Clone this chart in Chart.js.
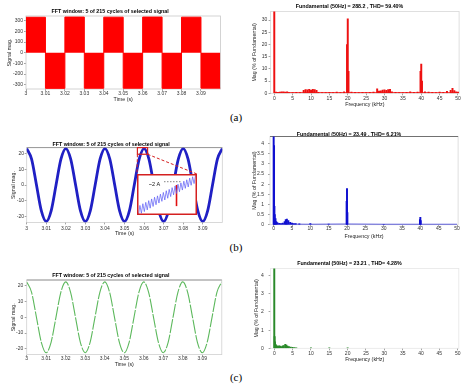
<!DOCTYPE html>
<html>
<head>
<meta charset="utf-8">
<script src="https://cdn.jsdelivr.net/npm/chart.js@4.4.0/dist/chart.umd.min.js"></script>
<style>
  html, body { margin: 0; padding: 0; background: #fff; overflow: hidden; width: 474px; height: 389px; }
  canvas { position: absolute; }
  .lbl { position: absolute; font-family: "Liberation Serif", "DejaVu Serif", serif; font-size: 11px; color: #000; transform: translate(-50%, -50%); }
</style>
</head>
<body>
<div class="lbl" style="left:236px; top:117px">(a)</div>
<div class="lbl" style="left:236px; top:247px">(b)</div>
<div class="lbl" style="left:236px; top:377px">(c)</div>
<script>
// --- (a) signal sans filtre : créneaux + spectre
const timeA = [3.00, 3.01, 3.02, 3.03, 3.04, 3.05, 3.06, 3.07, 3.08, 3.09, 3.10];
const signalA = [333, -334, 335, -333, 334, -333, 335, -334, 334, -332, -332];
const freqA = [0, 0.5, 1, 1.5, 2, 2.5, 3, 3.5, 4, 5, 6, 7, 8, 8.5, 9, 9.5, 10, 10.5, 11, 11.5,
  12, 13, 14, 15, 16, 17, 18, 19, 19.8, 20, 20.2, 21, 22, 23, 24, 25, 26, 27,
  28, 28.5, 29, 29.5, 30, 30.5, 31, 31.5, 32, 33, 34, 35, 36, 37, 38, 39,
  39.8, 40, 40.2, 41, 42, 43, 44, 45, 46, 47, 48, 48.5, 49, 49.5, 50];
const magA = [100, 0.5, 0.4, 0.5, 0.6, 0.6, 0.5, 0.6, 0.3, 0.3, 0.4, 0.3, 1.2, 1.5, 1.4, 1.6, 1.3, 1.6, 1.5, 1.2,
  0.4, 0.3, 0.3, 0.4, 0.3, 0.5, 0.3, 0.6, 20, 30.5, 9, 0.5, 0.4, 0.3, 0.4, 0.3, 0.4, 0.5,
  1.8, 0.9, 1.0, 1.3, 1.4, 1.2, 1.5, 1.6, 0.6, 0.4, 0.3, 0.3, 0.4, 0.6, 0.4, 0.5,
  9, 12, 5, 0.6, 0.5, 0.4, 0.3, 0.5, 0.4, 0.8, 1.2, 2.0, 1.1, 0.6, 0.5];
const floorFreqA = [0, 10, 20, 30, 40, 50];
const floorMagA = [0.3, 0.35, 0.3, 0.35, 0.3, 0.3];

// --- (b) et (c) : sinusoïdes échantillonnées tous les 2.5 ms
const timeS = [3.0000, 3.0025, 3.0050, 3.0075, 3.0100, 3.0125, 3.0150, 3.0175, 3.0200, 3.0225,
  3.0250, 3.0275, 3.0300, 3.0325, 3.0350, 3.0375, 3.0400, 3.0425, 3.0450, 3.0475,
  3.0500, 3.0525, 3.0550, 3.0575, 3.0600, 3.0625, 3.0650, 3.0675, 3.0700, 3.0725,
  3.0750, 3.0775, 3.0800, 3.0825, 3.0850, 3.0875, 3.0900, 3.0925, 3.0950, 3.0975, 3.1000];
const signalB = [23, 16.3, 0, -16.3, -23, -16.3, 0, 16.3, 23, 16.3, 0, -16.3, -23, -16.3, 0, 16.3,
  23, 16.3, 0, -16.3, -23, -16.3, 0, 16.3, 23, 16.3, 0, -16.3, -23, -16.3, 0, 16.3,
  23, 16.3, 0, -16.3, -23, -16.3, 0, 16.3, 23];
const freqB = [0, 0.1, 0.2, 0.3, 0.5, 0.7, 1, 1.5, 2, 2.5, 3, 3.3, 3.6, 4, 4.5, 5, 5.5, 6, 7,
  10, 15, 19.9, 20, 20.1, 30, 39.9, 40, 40.1];
const magB = [10, 3.9, 0.9, 0.5, 0.3, 0.15, 0.1, 0.07, 0.06, 0.08, 0.15, 0.25, 0.28, 0.2, 0.12, 0.08, 0.06, 0.05, 0.04,
  0.05, 0.03, 1.15, 1.78, 0.6, 0.02, 0.25, 0.36, 0.2];
const floorFreqB = [0, 10, 20, 30, 40, 50];
const floorMagB = [0.03, 0.02, 0.03, 0.02, 0.02, 0.02];

const signalC = [22.4, 15.8, 0, -15.8, -22.4, -15.8, 0, 15.8, 22.4, 15.8, 0, -15.8, -22.4, -15.8, 0, 15.8,
  22.4, 15.8, 0, -15.8, -22.4, -15.8, 0, 15.8, 22.4, 15.8, 0, -15.8, -22.4, -15.8, 0, 15.8,
  22.4, 15.8, 0, -15.8, -22.4, -15.8, 0, 15.8, 22.4];
const freqC = [0, 0.1, 0.2, 0.4, 0.6, 0.8, 1, 1.3, 1.6, 2, 2.3, 2.6, 3, 3.3, 3.6, 4, 4.5, 5, 5.5, 6, 10, 15, 20];
const magC = [10, 0.65, 0.35, 0.2, 0.15, 0.12, 0.1, 0.14, 0.12, 0.1, 0.13, 0.15, 0.22, 0.18, 0.12, 0.1, 0.07, 0.05, 0.04, 0.03, 0.02, 0.02, 0.02];

// zoom (b) : ondulation du courant
const rippleIdx = [0, 1, 2, 3, 4, 5, 6, 7, 8, 9, 10, 11, 12, 13, 14, 15, 16, 17, 18, 19,
  20, 21, 22, 23, 24, 25, 26, 27, 28, 29, 30, 31, 32, 33, 34, 35, 36, 37, 38, 39];
const rippleVal = [0.0, 2.8, 0.5, 3.3, 1.0, 3.7, 1.5, 4.2, 2.0, 4.7, 2.5, 5.2, 3.0, 5.6, 3.5, 6.1, 4.0, 6.6, 4.4, 7.1,
  4.9, 7.5, 5.4, 8.0, 5.9, 8.5, 6.3, 9.0, 6.8, 9.4, 7.3, 9.9, 7.8, 10.3, 8.2, 10.8, 8.7, 11.2, 9.2, 11.6];
const markIdx = [26, 26];
const markVal = [2.6, 8.8];

// graduations
const timeTicks = [3, 3.01, 3.02, 3.03, 3.04, 3.05, 3.06, 3.07, 3.08, 3.09];
const freqTicks = [0, 5, 10, 15, 20, 25, 30, 35, 40, 45, 50];
const ticksA = [-300, -200, -100, 0, 100, 200, 300];
const ticksAf = [0, 5, 10, 15, 20, 25, 30];
const ticksS = [-20, -10, 0, 10, 20];
const ticksBf = [0, 0.5, 1, 1.5, 2, 2.5, 3, 3.5, 4];
const ticksCf = [0, 1, 2, 3, 4];

const SANS = '"Liberation Sans", Arial, sans-serif';
Chart.defaults.font.family = SANS;
const FT = 5.3, FA = 5.3, FK = 5, TL = 2;

const boxPlugin = {
  id: 'box',
  beforeDatasetsDraw(chart, args, opts) {
    const { ctx, chartArea: a } = chart;
    ctx.save();
    ctx.lineWidth = 0.8;
    ctx.strokeStyle = opts.color;
    ctx.strokeRect(a.left, a.top, a.right - a.left, a.bottom - a.top);
    if (opts.top) {
      ctx.strokeStyle = opts.top;
      ctx.beginPath(); ctx.moveTo(a.left, a.top); ctx.lineTo(a.right, a.top); ctx.stroke();
    }
    ctx.restore();
  }
};

const pts = (xs, ys) => xs.map((x, i) => ({ x: x, y: ys[i] }));
const fmtTime = v => v === 3 ? '3' : v.toFixed(2);

function panel(p) {
  const y0 = Math.round(p.titleY - FT / 2);
  const y1 = Math.round(p.B + p.xH);
  const cv = document.createElement('canvas');
  cv.width = p.x1 - p.x0;
  cv.height = y1 - y0;
  cv.style.left = p.x0 + 'px';
  cv.style.top = y0 + 'px';
  document.body.appendChild(cv);
  const yW = p.L - p.x0, xH = y1 - p.B;
  const tickFont = { family: SANS, size: FK, lineHeight: 1 };
  const titleFont = { family: SANS, size: FA, lineHeight: 1 };
  const grid = { display: true, drawOnChartArea: false, drawTicks: true, tickLength: TL, color: '#666', lineWidth: 0.6, offset: false };
  return new Chart(cv, {
    type: p.type,
    data: { datasets: p.datasets },
    options: {
      responsive: false, animation: false, events: [],
      layout: { autoPadding: false, padding: { left: 0, top: 0, right: p.x1 - p.R, bottom: 0 } },
      plugins: {
        legend: { display: false }, tooltip: { enabled: false },
        title: {
          display: true, text: p.title, color: '#000',
          font: { family: SANS, size: FT, weight: 'bold', lineHeight: 1 },
          padding: { top: 0, bottom: p.T - y0 - FT }
        },
        box: { color: p.box, top: p.boxTop }
      },
      scales: {
        x: {
          type: 'linear', min: p.xMin, max: p.xMax, offset: false,
          afterFit: s => { s.height = xH; },
          afterBuildTicks: s => { s.ticks = p.xTicks.map(v => ({ value: v })); },
          ticks: { font: tickFont, color: '#333', padding: p.xLabelY - p.B - TL - FK / 2, maxRotation: 0, autoSkip: false, callback: p.xFmt },
          grid: grid, border: { display: false },
          title: { display: true, text: p.xTitle, color: '#222', font: titleFont, padding: { top: 0, bottom: y1 - p.xTitleY - FA / 2 } }
        },
        y: {
          min: p.yMin, max: p.yMax,
          afterFit: s => { s.width = yW; },
          afterBuildTicks: s => { s.ticks = p.yTicks.map(v => ({ value: v })); },
          ticks: { font: tickFont, color: '#333', padding: p.L - TL - p.yLabelRight, autoSkip: false, callback: v => String(v) },
          grid: grid, border: { display: false },
          title: { display: true, text: p.yTitle, color: '#222', font: titleFont, padding: { top: p.yTitleX - p.x0 - FA / 2, bottom: 0 } }
        }
      }
    },
    plugins: [boxPlugin].concat(p.extra || [])
  });
}

const bars = (xs, ys, color) => ({ type: 'bar', data: pts(xs, ys), backgroundColor: color, barThickness: 1.3, borderWidth: 0, grouped: false });
const floor = (xs, ys, color) => ({ type: 'line', data: pts(xs, ys), borderColor: color, borderWidth: 0.8, pointRadius: 0 });

// (a) gauche
panel({
  type: 'line', x0: 0, x1: 247, L: 26, R: 220.4, T: 16, B: 89, titleY: 12, xH: 14,
  yTitleX: 10, yLabelRight: 23, xLabelY: 94, xTitleY: 99.5,
  title: 'FFT window: 5 of 215 cycles of selected signal',
  xTitle: 'Time (s)', yTitle: 'Signal mag.',
  xMin: 3, xMax: 3.1, yMin: -340, yMax: 345, xTicks: timeTicks, yTicks: ticksA, xFmt: fmtTime,
  box: '#c8c8c8',
  datasets: [{ data: pts(timeA, signalA), stepped: 'before', fill: 'origin', borderColor: '#ff0000', backgroundColor: '#ff0000', borderWidth: 1, pointRadius: 0 }]
});

// (a) droite
panel({
  type: 'bar', x0: 240, x1: 483, L: 270.6, R: 459.1, T: 11.5, B: 93.3, titleY: 6.7, xH: 15,
  yTitleX: 255, yLabelRight: 267.3, xLabelY: 99, xTitleY: 104.7,
  title: 'Fundamental (50Hz) = 288.2 , THD= 59.40%',
  xTitle: 'Frequency (kHz)', yTitle: 'Mag (% of Fundamental)',
  xMin: -1, xMax: 50.3, yMin: 0, yMax: 33.5, xTicks: freqTicks, yTicks: ticksAf, xFmt: v => String(v),
  box: '#d8d8d8',
  datasets: [floor(floorFreqA, floorMagA, '#ee1111'), bars(freqA, magA, '#ee1111')]
});

// (b) gauche + cadre de zoom
const INSET = { x: 137, y: 174, w: 60, h: 41 };
const zoomT = [3.0566, 3.0618], zoomV = [19.4, 23.6];
const zoomPlugin = {
  id: 'zoomBox',
  afterDatasetsDraw(chart) {
    const { ctx, scales: { x, y } } = chart;
    const l = x.getPixelForValue(zoomT[0]), r = x.getPixelForValue(zoomT[1]);
    const t = y.getPixelForValue(zoomV[1]), b = y.getPixelForValue(zoomV[0]);
    const ox = parseFloat(chart.canvas.style.left) || 0;
    const oy = parseFloat(chart.canvas.style.top) || 0;
    ctx.save();
    ctx.strokeStyle = '#d42020';
    ctx.lineWidth = 1.2;
    ctx.strokeRect(l, t, r - l, b - t);
    ctx.setLineDash([3, 2]);
    ctx.lineWidth = 1;
    ctx.beginPath();
    ctx.moveTo(l, b); ctx.lineTo(INSET.x - ox, INSET.y - oy);
    ctx.moveTo(r, b); ctx.lineTo(INSET.x + INSET.w - ox, INSET.y - oy);
    ctx.stroke();
    ctx.restore();
  }
};
panel({
  type: 'line', x0: 0, x1: 248, L: 26.7, R: 222.3, T: 147.6, B: 222.4, titleY: 144.2, xH: 14,
  yTitleX: 14, yLabelRight: 24, xLabelY: 228.3, xTitleY: 233.5,
  title: 'FFT window: 5 of 215 cycles of selected signal',
  xTitle: 'Time (s)', yTitle: 'Signal mag.',
  xMin: 3, xMax: 3.1, yMin: -23.6, yMax: 23.6, xTicks: timeTicks, yTicks: ticksS, xFmt: fmtTime,
  box: '#cfcfcf', boxTop: '#888',
  extra: [zoomPlugin],
  datasets: [{ data: pts(timeS, signalB), borderColor: '#2020c4', borderWidth: 2.8, pointRadius: 0, cubicInterpolationMode: 'monotone' }]
});

// encart
const insetPlugin = {
  id: 'insetFrame',
  beforeDraw(chart) {
    const { ctx, width, height } = chart;
    ctx.save(); ctx.fillStyle = '#fff'; ctx.fillRect(0, 0, width, height); ctx.restore();
  },
  afterDraw(chart) {
    const { ctx, width, height } = chart;
    ctx.save();
    ctx.strokeStyle = '#333'; ctx.lineWidth = 0.6; ctx.setLineDash([1.5, 1.5]);
    ctx.beginPath(); ctx.moveTo(27, 7.7); ctx.lineTo(45, 7.7); ctx.stroke();
    ctx.setLineDash([]);
    ctx.fillStyle = '#111'; ctx.font = '5.5px ' + SANS; ctx.textAlign = 'center'; ctx.textBaseline = 'middle';
    ctx.fillText('~2 A', 17.5, 10);
    ctx.strokeStyle = '#d42020'; ctx.lineWidth = 1.5;
    ctx.strokeRect(0.75, 0.75, width - 1.5, height - 1.5);
    ctx.restore();
  }
};
const cvI = document.createElement('canvas');
cvI.width = INSET.w; cvI.height = INSET.h;
cvI.style.left = INSET.x + 'px'; cvI.style.top = INSET.y + 'px';
document.body.appendChild(cvI);
new Chart(cvI, {
  type: 'line',
  data: { datasets: [
    { data: pts(rippleIdx, rippleVal), borderColor: '#5a5af5', borderWidth: 0.7, pointRadius: 0, tension: 0 },
    { data: pts(markIdx, markVal), borderColor: '#e01010', borderWidth: 1.6, pointRadius: 0 }
  ] },
  options: {
    responsive: false, animation: false, events: [],
    layout: { autoPadding: false, padding: 0 },
    plugins: { legend: { display: false }, tooltip: { enabled: false } },
    scales: { x: { type: 'linear', display: false, min: -1, max: 40 }, y: { display: false, min: 0, max: 12 } }
  },
  plugins: [insetPlugin]
});

// (b) droite
panel({
  type: 'bar', x0: 240, x1: 494, L: 270, R: 458.1, T: 135, B: 224.7, titleY: 132.3, xH: 15,
  yTitleX: 255, yLabelRight: 264, xLabelY: 229, xTitleY: 236.7,
  title: 'Fundamental (50Hz) = 23.49 , THD= 6.21%',
  xTitle: 'Frequency (kHz)', yTitle: 'Mag (% of Fundamental)',
  xMin: -1, xMax: 50.3, yMin: 0, yMax: 4.35, xTicks: freqTicks, yTicks: ticksBf, xFmt: v => String(v),
  box: '#d8d8d8', boxTop: '#555',
  datasets: [floor(floorFreqB, floorMagB, '#1010d0'), bars(freqB, magB, '#1010d0')]
});

// (c) gauche
panel({
  type: 'line', x0: 0, x1: 248, L: 26.7, R: 221.8, T: 280, B: 354.6, titleY: 276, xH: 14,
  yTitleX: 13.3, yLabelRight: 23.3, xLabelY: 358.7, xTitleY: 365,
  title: 'FFT window: 5 of 215 cycles of selected signal',
  xTitle: 'Time (s)', yTitle: 'Signal mag.',
  xMin: 3, xMax: 3.1, yMin: -23.6, yMax: 23.6, xTicks: timeTicks, yTicks: ticksS, xFmt: fmtTime,
  box: '#d0d0d0', boxTop: '#888',
  datasets: [{ data: pts(timeS, signalC), borderColor: '#5cb85c', borderWidth: 1.1, borderDash: [14, 1.5], pointRadius: 0, cubicInterpolationMode: 'monotone' }]
});

// (c) droite
panel({
  type: 'bar', x0: 240, x1: 482, L: 270.6, R: 458.8, T: 268.2, B: 348.3, titleY: 264, xH: 15,
  yTitleX: 257, yLabelRight: 263.7, xLabelY: 354, xTitleY: 360,
  title: 'Fundamental (50Hz) = 23.21 , THD= 4.28%',
  xTitle: 'Frequency (kHz)', yTitle: 'Mag (% of Fundamental)',
  xMin: -1, xMax: 50.3, yMin: 0, yMax: 4.4, xTicks: freqTicks, yTicks: ticksCf, xFmt: v => String(v),
  box: '#e6e6e6',
  datasets: [bars(freqC, magC, '#2a8a2a')]
});
</script>
</body>
</html>
